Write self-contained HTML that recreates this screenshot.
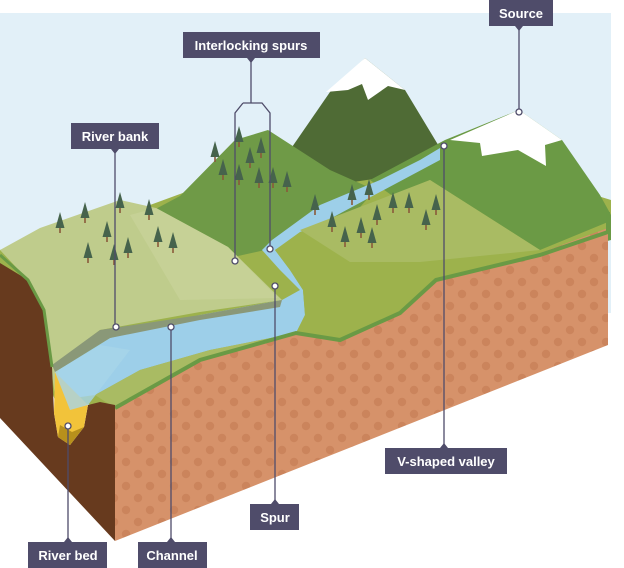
<!DOCTYPE html>
<html><head><meta charset="utf-8"><style>
html,body{margin:0;padding:0;background:#fff;width:624px;height:568px;overflow:hidden}
svg{display:block}
.lb{fill:#4f4c6a}
.t{font-family:"Liberation Sans",sans-serif;font-weight:bold;font-size:13px;fill:#fff;text-anchor:middle}
.ln{stroke:#4f4c6a;stroke-width:1.3;fill:none}
.dot{fill:#fff;stroke:#4f4c6a;stroke-width:1.3}
</style></head><body>
<svg width="624" height="568" viewBox="0 0 624 568" xmlns="http://www.w3.org/2000/svg">
<defs>
<pattern id="dots" width="24" height="24" patternUnits="userSpaceOnUse">
<rect width="24" height="24" fill="#d6926a"/>
<circle cx="6" cy="6" r="4.2" fill="#cb845c"/>
<circle cx="18" cy="18" r="4.2" fill="#cb845c"/>
</pattern>
<g id="tr"><polygon points="0,-11 -4.5,5 4.5,5" fill="#46634c"/><rect x="-0.8" y="5" width="1.6" height="5" fill="#8a5a3a"/></g>
</defs>
<rect x="0" y="13" width="611" height="300" fill="#e2f0f8"/>
<!-- base land -->
<polygon points="0,250 150,205 300,150 440,148 611,200 611,232 540,255 436,280 400,313 340,340 296,333 200,360 115,408 55,400 0,263" fill="#9db24c"/>
<!-- dark mountain -->
<polygon points="290,150 330,92 365,58 405,90 440,148 380,178 300,190" fill="#4f6b35"/>
<polygon points="326,92 365,58 405,90 388,86 368,100 362,84 348,90" fill="#fff"/>
<!-- right mountain -->
<polygon points="370,180 445,140 519,110 562,140 600,195 611,215 611,240 540,260 420,215" fill="#6b9a45"/>
<polygon points="450,140 519,110 562,140 545,145 546,166 518,150 482,156 480,143" fill="#fff"/>
<!-- middle hill -->
<polygon points="150,212 180,196 235,140 268,130 330,170 375,190 340,230 265,250 220,260" fill="#6f9a47"/>
<!-- river -->
<polygon points="440,148 420,160 380,180 320,205 272,240 262,250 280,270 300,290 282,300 200,315 110,338 55,372 60,400 95,395 140,370 210,350 296,333 305,315 303,290 290,270 275,250 300,235 380,192 440,160" fill="#9dcfe9"/>
<!-- right valley floor -->
<polygon points="275,250 300,232 430,180 540,250 608,222 608,232 540,255 436,280 400,313 340,340 296,333 305,315 303,290 290,270" fill="#9db24c"/>
<polygon points="300,230 430,180 540,250 420,262 350,262" fill="#a9bb63"/>
<polygon points="115,408 200,360 296,333 210,350 140,370 95,395" fill="#a9bb63"/>
<!-- left hill -->
<polygon points="0,250 40,228 120,200 156,208 228,247 282,300 200,312 100,330 60,360 55,395 45,330 28,280" fill="#bfcc8c"/>
<polygon points="130,215 156,208 228,247 278,298 180,300" fill="#c6d196"/>
<polygon points="52,365 100,330 200,315 282,300 280,307 200,320 110,338 55,372" fill="#8a9878"/>
<!-- right face -->
<polygon points="115,408 200,360 296,333 340,340 400,313 436,280 540,253 608,228 608,345 115,541" fill="url(#dots)"/>
<polyline points="115,408 200,360 296,333 340,340 400,313 436,280 540,255 608,232" fill="none" stroke="#6a9a45" stroke-width="4"/>
<polyline points="608,212 608,232" stroke="#6a9a45" stroke-width="4"/>
<!-- left face -->
<polygon points="0,263 28,280 44,310 52,367 54,413 58,437 70,445 84,427 88,405 100,402 115,405 115,541 0,418" fill="#673a1e"/>
<polyline points="0,255 28,280 44,310 52,367" fill="none" stroke="#6a9a45" stroke-width="3"/>
<polygon points="55,372 88,405 84,427 70,445 58,437 54,413" fill="#f2c33a"/>
<polygon points="84,427 70,445 58,437 60,425 72,432" fill="#b8901c"/>
<polygon points="55,372 100,345 130,350 88,405 70,410" fill="#a8d4e8" opacity="0.8"/>
<!-- trees -->
<g>
<use href="#tr" x="60" y="223"/><use href="#tr" x="85" y="213"/><use href="#tr" x="120" y="203"/><use href="#tr" x="149" y="210"/>
<use href="#tr" x="107" y="232"/><use href="#tr" x="158" y="237"/><use href="#tr" x="173" y="243"/><use href="#tr" x="88" y="253"/>
<use href="#tr" x="114" y="255"/><use href="#tr" x="128" y="248"/><use href="#tr" x="215" y="152"/><use href="#tr" x="239" y="137"/>
<use href="#tr" x="261" y="148"/><use href="#tr" x="223" y="170"/><use href="#tr" x="250" y="158"/><use href="#tr" x="239" y="175"/>
<use href="#tr" x="259" y="178"/><use href="#tr" x="273" y="178"/><use href="#tr" x="287" y="182"/><use href="#tr" x="315" y="205"/>
<use href="#tr" x="352" y="195"/><use href="#tr" x="369" y="190"/><use href="#tr" x="393" y="203"/><use href="#tr" x="409" y="203"/>
<use href="#tr" x="436" y="205"/><use href="#tr" x="377" y="215"/><use href="#tr" x="332" y="222"/><use href="#tr" x="361" y="228"/>
<use href="#tr" x="345" y="237"/><use href="#tr" x="372" y="238"/><use href="#tr" x="426" y="220"/>
</g>
<!-- leader lines -->
<path class="ln" d="M519,30 V112"/>
<path class="ln" d="M251,62 V103 M243,103 H262 L270,113 V249 M243,103 L235,113 V261"/>
<path class="ln" d="M115,153 V327"/>
<path class="ln" d="M444,146 V448"/>
<path class="ln" d="M275,286 V504"/>
<path class="ln" d="M171,327 V542"/>
<path class="ln" d="M68,426 V542"/>
<circle class="dot" cx="519" cy="112" r="3"/><circle class="dot" cx="235" cy="261" r="3"/><circle class="dot" cx="270" cy="249" r="3"/>
<circle class="dot" cx="116" cy="327" r="3"/><circle class="dot" cx="444" cy="146" r="3"/><circle class="dot" cx="275" cy="286" r="3"/>
<circle class="dot" cx="171" cy="327" r="3"/><circle class="dot" cx="68" cy="426" r="3"/>
<!-- labels -->
<rect class="lb" x="489" y="0" width="64" height="26"/><polygon class="lb" points="515,26 523,26 519,31"/><text class="t" x="521" y="18">Source</text>
<rect class="lb" x="183" y="32" width="137" height="26"/><polygon class="lb" points="247,58 255,58 251,63"/><text class="t" x="251" y="50">Interlocking spurs</text>
<rect class="lb" x="71" y="123" width="88" height="26"/><polygon class="lb" points="111,149 119,149 115,154"/><text class="t" x="115" y="141">River bank</text>
<rect class="lb" x="385" y="448" width="122" height="26"/><polygon class="lb" points="440,448 448,448 444,443"/><text class="t" x="446" y="466">V-shaped valley</text>
<rect class="lb" x="250" y="504" width="49" height="26"/><polygon class="lb" points="271,504 279,504 275,499"/><text class="t" x="275" y="522">Spur</text>
<rect class="lb" x="138" y="542" width="69" height="26"/><polygon class="lb" points="167,542 175,542 171,537"/><text class="t" x="172" y="560">Channel</text>
<rect class="lb" x="28" y="542" width="79" height="26"/><polygon class="lb" points="64,542 72,542 68,537"/><text class="t" x="68" y="560">River bed</text>
</svg>
</body></html>
